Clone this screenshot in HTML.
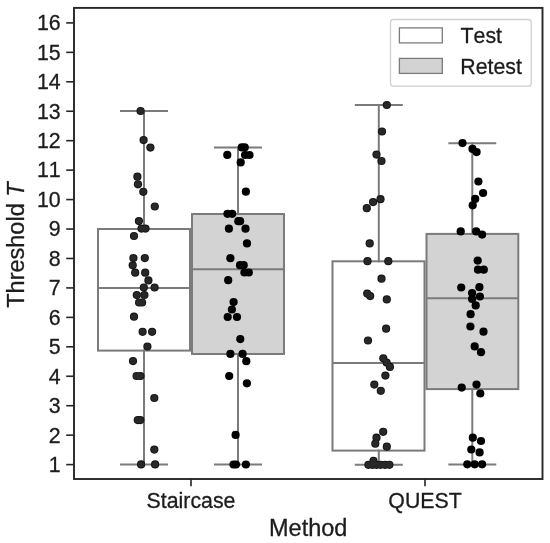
<!DOCTYPE html><html><head><meta charset="utf-8"><style>html,body{margin:0;padding:0;background:#fff;}svg{display:block;}text{font-family:"Liberation Sans", Arial, sans-serif;font-kerning:none;stroke:#1c1c1c;stroke-width:0.3px;}</style></head><body>
<svg width="550" height="543" viewBox="0 0 550 543">
<rect x="0" y="0" width="550" height="543" fill="#ffffff"/>
<rect x="98.00" y="229.00" width="92.00" height="121.60" fill="#ffffff" stroke="#7b7b7b" stroke-width="2.00"/>
<g stroke="#7b7b7b" stroke-width="2.00" stroke-linecap="square" fill="none">
<line x1="144.00" y1="350.60" x2="144.00" y2="464.60"/>
<line x1="144.00" y1="229.00" x2="144.00" y2="111.10"/>
<line x1="121.00" y1="464.60" x2="167.00" y2="464.60"/>
<line x1="121.00" y1="111.10" x2="167.00" y2="111.10"/>
</g>
<line x1="98.00" y1="288.00" x2="190.00" y2="288.00" stroke="#7b7b7b" stroke-width="2.00"/>
<rect x="192.00" y="214.00" width="92.00" height="140.00" fill="#d3d3d3" stroke="#7b7b7b" stroke-width="2.00"/>
<g stroke="#7b7b7b" stroke-width="2.00" stroke-linecap="square" fill="none">
<line x1="238.00" y1="354.00" x2="238.00" y2="464.60"/>
<line x1="238.00" y1="214.00" x2="238.00" y2="147.60"/>
<line x1="215.00" y1="464.60" x2="261.00" y2="464.60"/>
<line x1="215.00" y1="147.60" x2="261.00" y2="147.60"/>
</g>
<line x1="192.00" y1="269.20" x2="284.00" y2="269.20" stroke="#7b7b7b" stroke-width="2.00"/>
<rect x="332.50" y="261.30" width="92.00" height="189.30" fill="#ffffff" stroke="#7b7b7b" stroke-width="2.00"/>
<g stroke="#7b7b7b" stroke-width="2.00" stroke-linecap="square" fill="none">
<line x1="378.80" y1="450.60" x2="378.80" y2="464.70"/>
<line x1="378.80" y1="261.30" x2="378.80" y2="105.00"/>
<line x1="355.80" y1="464.70" x2="401.80" y2="464.70"/>
<line x1="355.80" y1="105.00" x2="401.80" y2="105.00"/>
</g>
<line x1="332.50" y1="363.00" x2="424.50" y2="363.00" stroke="#7b7b7b" stroke-width="2.00"/>
<rect x="426.50" y="233.90" width="91.80" height="155.20" fill="#d3d3d3" stroke="#7b7b7b" stroke-width="2.00"/>
<g stroke="#7b7b7b" stroke-width="2.00" stroke-linecap="square" fill="none">
<line x1="472.30" y1="389.10" x2="472.30" y2="464.60"/>
<line x1="472.30" y1="233.90" x2="472.30" y2="143.20"/>
<line x1="449.35" y1="464.60" x2="495.25" y2="464.60"/>
<line x1="449.35" y1="143.20" x2="495.25" y2="143.20"/>
</g>
<line x1="426.50" y1="298.30" x2="518.30" y2="298.30" stroke="#7b7b7b" stroke-width="2.00"/>
<g fill="#121212"><circle cx="140.6" cy="111.0" r="4.10"/><circle cx="143.6" cy="140.1" r="4.10"/><circle cx="150.4" cy="147.6" r="4.10"/><circle cx="137.4" cy="176.7" r="4.10"/><circle cx="138.0" cy="184.3" r="4.10"/><circle cx="143.3" cy="191.8" r="4.10"/><circle cx="154.8" cy="206.5" r="4.10"/><circle cx="138.9" cy="221.1" r="4.10"/><circle cx="141.5" cy="228.6" r="4.10"/><circle cx="145.5" cy="228.6" r="4.10"/><circle cx="134.0" cy="236.0" r="4.10"/><circle cx="133.4" cy="258.1" r="4.10"/><circle cx="144.8" cy="258.1" r="4.10"/><circle cx="132.7" cy="265.3" r="4.10"/><circle cx="135.2" cy="272.7" r="4.10"/><circle cx="145.2" cy="272.7" r="4.10"/><circle cx="148.4" cy="280.4" r="4.10"/><circle cx="143.8" cy="287.5" r="4.10"/><circle cx="154.6" cy="287.5" r="4.10"/><circle cx="136.8" cy="295.0" r="4.10"/><circle cx="144.4" cy="295.0" r="4.10"/><circle cx="139.1" cy="302.5" r="4.10"/><circle cx="142.1" cy="302.5" r="4.10"/><circle cx="134.0" cy="316.7" r="4.10"/><circle cx="142.6" cy="331.8" r="4.10"/><circle cx="152.1" cy="331.8" r="4.10"/><circle cx="147.4" cy="346.5" r="4.10"/><circle cx="133.0" cy="361.1" r="4.10"/><circle cx="136.6" cy="376.0" r="4.10"/><circle cx="140.4" cy="376.0" r="4.10"/><circle cx="154.3" cy="398.0" r="4.10"/><circle cx="137.8" cy="420.1" r="4.10"/><circle cx="140.3" cy="420.1" r="4.10"/><circle cx="154.3" cy="449.6" r="4.10"/><circle cx="141.1" cy="464.4" r="4.10"/><circle cx="155.1" cy="464.4" r="4.10"/></g>
<g fill="#282828"><circle cx="140.6" cy="111.0" r="3.20"/><circle cx="143.6" cy="140.1" r="3.20"/><circle cx="150.4" cy="147.6" r="3.20"/><circle cx="137.4" cy="176.7" r="3.20"/><circle cx="138.0" cy="184.3" r="3.20"/><circle cx="143.3" cy="191.8" r="3.20"/><circle cx="154.8" cy="206.5" r="3.20"/><circle cx="138.9" cy="221.1" r="3.20"/><circle cx="141.5" cy="228.6" r="3.20"/><circle cx="145.5" cy="228.6" r="3.20"/><circle cx="134.0" cy="236.0" r="3.20"/><circle cx="133.4" cy="258.1" r="3.20"/><circle cx="144.8" cy="258.1" r="3.20"/><circle cx="132.7" cy="265.3" r="3.20"/><circle cx="135.2" cy="272.7" r="3.20"/><circle cx="145.2" cy="272.7" r="3.20"/><circle cx="148.4" cy="280.4" r="3.20"/><circle cx="143.8" cy="287.5" r="3.20"/><circle cx="154.6" cy="287.5" r="3.20"/><circle cx="136.8" cy="295.0" r="3.20"/><circle cx="144.4" cy="295.0" r="3.20"/><circle cx="139.1" cy="302.5" r="3.20"/><circle cx="142.1" cy="302.5" r="3.20"/><circle cx="134.0" cy="316.7" r="3.20"/><circle cx="142.6" cy="331.8" r="3.20"/><circle cx="152.1" cy="331.8" r="3.20"/><circle cx="147.4" cy="346.5" r="3.20"/><circle cx="133.0" cy="361.1" r="3.20"/><circle cx="136.6" cy="376.0" r="3.20"/><circle cx="140.4" cy="376.0" r="3.20"/><circle cx="154.3" cy="398.0" r="3.20"/><circle cx="137.8" cy="420.1" r="3.20"/><circle cx="140.3" cy="420.1" r="3.20"/><circle cx="154.3" cy="449.6" r="3.20"/><circle cx="141.1" cy="464.4" r="3.20"/><circle cx="155.1" cy="464.4" r="3.20"/></g>
<g fill="#000000"><circle cx="241.8" cy="147.4" r="4.10"/><circle cx="244.7" cy="147.4" r="4.10"/><circle cx="227.3" cy="154.9" r="4.10"/><circle cx="245.1" cy="155.0" r="4.10"/><circle cx="249.5" cy="155.0" r="4.10"/><circle cx="240.7" cy="162.4" r="4.10"/><circle cx="245.9" cy="191.7" r="4.10"/><circle cx="227.5" cy="213.8" r="4.10"/><circle cx="232.2" cy="213.8" r="4.10"/><circle cx="238.3" cy="221.2" r="4.10"/><circle cx="240.1" cy="221.2" r="4.10"/><circle cx="228.9" cy="228.7" r="4.10"/><circle cx="245.5" cy="228.7" r="4.10"/><circle cx="247.0" cy="243.4" r="4.10"/><circle cx="230.4" cy="258.2" r="4.10"/><circle cx="240.0" cy="265.2" r="4.10"/><circle cx="243.7" cy="265.2" r="4.10"/><circle cx="244.4" cy="272.5" r="4.10"/><circle cx="248.8" cy="272.5" r="4.10"/><circle cx="228.2" cy="280.2" r="4.10"/><circle cx="233.6" cy="302.1" r="4.10"/><circle cx="231.9" cy="309.5" r="4.10"/><circle cx="227.7" cy="317.0" r="4.10"/><circle cx="237.0" cy="317.0" r="4.10"/><circle cx="240.3" cy="339.1" r="4.10"/><circle cx="230.4" cy="353.9" r="4.10"/><circle cx="242.6" cy="353.9" r="4.10"/><circle cx="246.3" cy="361.2" r="4.10"/><circle cx="229.2" cy="376.0" r="4.10"/><circle cx="246.9" cy="383.3" r="4.10"/><circle cx="235.6" cy="434.9" r="4.10"/><circle cx="233.5" cy="464.5" r="4.10"/><circle cx="236.0" cy="464.5" r="4.10"/><circle cx="245.9" cy="464.5" r="4.10"/></g>
<g fill="#121212"><circle cx="386.8" cy="105.0" r="4.10"/><circle cx="382.0" cy="131.5" r="4.10"/><circle cx="376.5" cy="154.6" r="4.10"/><circle cx="381.5" cy="161.0" r="4.10"/><circle cx="380.5" cy="199.2" r="4.10"/><circle cx="373.1" cy="202.1" r="4.10"/><circle cx="366.8" cy="208.2" r="4.10"/><circle cx="369.7" cy="243.4" r="4.10"/><circle cx="367.5" cy="261.2" r="4.10"/><circle cx="388.3" cy="261.2" r="4.10"/><circle cx="381.5" cy="278.7" r="4.10"/><circle cx="367.2" cy="293.6" r="4.10"/><circle cx="370.2" cy="296.1" r="4.10"/><circle cx="386.8" cy="299.4" r="4.10"/><circle cx="386.1" cy="328.7" r="4.10"/><circle cx="368.0" cy="340.5" r="4.10"/><circle cx="383.3" cy="358.3" r="4.10"/><circle cx="386.6" cy="362.6" r="4.10"/><circle cx="389.9" cy="366.9" r="4.10"/><circle cx="385.4" cy="375.6" r="4.10"/><circle cx="374.3" cy="384.6" r="4.10"/><circle cx="380.8" cy="390.8" r="4.10"/><circle cx="383.2" cy="431.8" r="4.10"/><circle cx="376.5" cy="437.7" r="4.10"/><circle cx="375.3" cy="443.7" r="4.10"/><circle cx="386.8" cy="446.7" r="4.10"/><circle cx="373.5" cy="460.9" r="4.10"/><circle cx="368.4" cy="464.8" r="4.10"/><circle cx="372.5" cy="464.8" r="4.10"/><circle cx="376.5" cy="464.8" r="4.10"/><circle cx="380.5" cy="464.8" r="4.10"/><circle cx="385.0" cy="464.8" r="4.10"/><circle cx="389.4" cy="464.8" r="4.10"/></g>
<g fill="#282828"><circle cx="386.8" cy="105.0" r="3.20"/><circle cx="382.0" cy="131.5" r="3.20"/><circle cx="376.5" cy="154.6" r="3.20"/><circle cx="381.5" cy="161.0" r="3.20"/><circle cx="380.5" cy="199.2" r="3.20"/><circle cx="373.1" cy="202.1" r="3.20"/><circle cx="366.8" cy="208.2" r="3.20"/><circle cx="369.7" cy="243.4" r="3.20"/><circle cx="367.5" cy="261.2" r="3.20"/><circle cx="388.3" cy="261.2" r="3.20"/><circle cx="381.5" cy="278.7" r="3.20"/><circle cx="367.2" cy="293.6" r="3.20"/><circle cx="370.2" cy="296.1" r="3.20"/><circle cx="386.8" cy="299.4" r="3.20"/><circle cx="386.1" cy="328.7" r="3.20"/><circle cx="368.0" cy="340.5" r="3.20"/><circle cx="383.3" cy="358.3" r="3.20"/><circle cx="386.6" cy="362.6" r="3.20"/><circle cx="389.9" cy="366.9" r="3.20"/><circle cx="385.4" cy="375.6" r="3.20"/><circle cx="374.3" cy="384.6" r="3.20"/><circle cx="380.8" cy="390.8" r="3.20"/><circle cx="383.2" cy="431.8" r="3.20"/><circle cx="376.5" cy="437.7" r="3.20"/><circle cx="375.3" cy="443.7" r="3.20"/><circle cx="386.8" cy="446.7" r="3.20"/><circle cx="373.5" cy="460.9" r="3.20"/><circle cx="368.4" cy="464.8" r="3.20"/><circle cx="372.5" cy="464.8" r="3.20"/><circle cx="376.5" cy="464.8" r="3.20"/><circle cx="380.5" cy="464.8" r="3.20"/><circle cx="385.0" cy="464.8" r="3.20"/><circle cx="389.4" cy="464.8" r="3.20"/></g>
<g fill="#000000"><circle cx="462.5" cy="143.1" r="4.10"/><circle cx="472.5" cy="148.9" r="4.10"/><circle cx="476.6" cy="152.1" r="4.10"/><circle cx="478.4" cy="181.5" r="4.10"/><circle cx="483.1" cy="193.0" r="4.10"/><circle cx="475.2" cy="198.9" r="4.10"/><circle cx="472.7" cy="205.3" r="4.10"/><circle cx="460.7" cy="231.4" r="4.10"/><circle cx="476.2" cy="231.4" r="4.10"/><circle cx="482.1" cy="234.6" r="4.10"/><circle cx="477.7" cy="260.6" r="4.10"/><circle cx="478.0" cy="269.7" r="4.10"/><circle cx="483.8" cy="269.7" r="4.10"/><circle cx="461.2" cy="287.5" r="4.10"/><circle cx="479.4" cy="287.2" r="4.10"/><circle cx="472.1" cy="293.1" r="4.10"/><circle cx="479.9" cy="296.5" r="4.10"/><circle cx="472.1" cy="299.0" r="4.10"/><circle cx="475.7" cy="305.4" r="4.10"/><circle cx="470.6" cy="314.2" r="4.10"/><circle cx="470.4" cy="326.5" r="4.10"/><circle cx="483.5" cy="331.7" r="4.10"/><circle cx="474.7" cy="346.4" r="4.10"/><circle cx="481.0" cy="352.2" r="4.10"/><circle cx="476.5" cy="384.6" r="4.10"/><circle cx="461.7" cy="387.6" r="4.10"/><circle cx="480.3" cy="393.5" r="4.10"/><circle cx="472.8" cy="437.7" r="4.10"/><circle cx="481.0" cy="441.0" r="4.10"/><circle cx="471.3" cy="449.5" r="4.10"/><circle cx="479.6" cy="452.4" r="4.10"/><circle cx="467.3" cy="464.3" r="4.10"/><circle cx="474.7" cy="464.3" r="4.10"/><circle cx="482.1" cy="464.3" r="4.10"/></g>
<rect x="74.00" y="7.90" width="468.50" height="471.10" fill="none" stroke="#262626" stroke-width="1.9" stroke-linejoin="miter"/>
<g stroke="#262626" stroke-width="1.6">
<line x1="66.2" y1="464.60" x2="74.00" y2="464.60"/>
<line x1="66.2" y1="435.15" x2="74.00" y2="435.15"/>
<line x1="66.2" y1="405.71" x2="74.00" y2="405.71"/>
<line x1="66.2" y1="376.26" x2="74.00" y2="376.26"/>
<line x1="66.2" y1="346.81" x2="74.00" y2="346.81"/>
<line x1="66.2" y1="317.37" x2="74.00" y2="317.37"/>
<line x1="66.2" y1="287.92" x2="74.00" y2="287.92"/>
<line x1="66.2" y1="258.47" x2="74.00" y2="258.47"/>
<line x1="66.2" y1="229.03" x2="74.00" y2="229.03"/>
<line x1="66.2" y1="199.58" x2="74.00" y2="199.58"/>
<line x1="66.2" y1="170.13" x2="74.00" y2="170.13"/>
<line x1="66.2" y1="140.69" x2="74.00" y2="140.69"/>
<line x1="66.2" y1="111.24" x2="74.00" y2="111.24"/>
<line x1="66.2" y1="81.79" x2="74.00" y2="81.79"/>
<line x1="66.2" y1="52.35" x2="74.00" y2="52.35"/>
<line x1="66.2" y1="22.90" x2="74.00" y2="22.90"/>
<line x1="191.00" y1="479.00" x2="191.00" y2="486.3"/>
<line x1="425.00" y1="479.00" x2="425.00" y2="486.3"/>
</g>
<g font-size="21.30" fill="#1c1c1c" text-anchor="end">
<text x="60.6" y="471.95">1</text>
<text x="60.6" y="442.50">2</text>
<text x="60.6" y="413.06">3</text>
<text x="60.6" y="383.61">4</text>
<text x="60.6" y="354.16">5</text>
<text x="60.6" y="324.72">6</text>
<text x="60.6" y="295.27">7</text>
<text x="60.6" y="265.82">8</text>
<text x="60.6" y="236.38">9</text>
<text x="60.6" y="206.93">10</text>
<text x="60.6" y="177.48">11</text>
<text x="60.6" y="148.04">12</text>
<text x="60.6" y="118.59">13</text>
<text x="60.6" y="89.14">14</text>
<text x="60.6" y="59.70">15</text>
<text x="60.6" y="30.25">16</text>
</g>
<g font-size="21.30" fill="#1c1c1c" text-anchor="middle">
<text x="191.00" y="508.1">Staircase</text>
<text x="425.00" y="508.1">QUEST</text>
</g>
<text x="308.25" y="536.0" font-size="23.50" fill="#1c1c1c" text-anchor="middle">Method</text>
<text transform="translate(24.2,245.1) rotate(-90)" font-size="23.50" fill="#1c1c1c" text-anchor="middle">Threshold <tspan font-style="italic">T</tspan></text>
<rect x="390.5" y="19.5" width="140.7" height="66.7" rx="3" ry="3" fill="#ffffff" fill-opacity="0.8" stroke="#d0d0d0" stroke-width="1.3"/>
<rect x="399.4" y="27.9" width="42.9" height="15.0" fill="#ffffff" stroke="#7b7b7b" stroke-width="1.3"/>
<rect x="399.4" y="58.4" width="42.9" height="15.0" fill="#d3d3d3" stroke="#7b7b7b" stroke-width="1.3"/>
<g font-size="21.30" fill="#1c1c1c">
<text x="460.6" y="42.7">Test</text>
<text x="460.3" y="73.6">Retest</text>
</g>
</svg></body></html>
